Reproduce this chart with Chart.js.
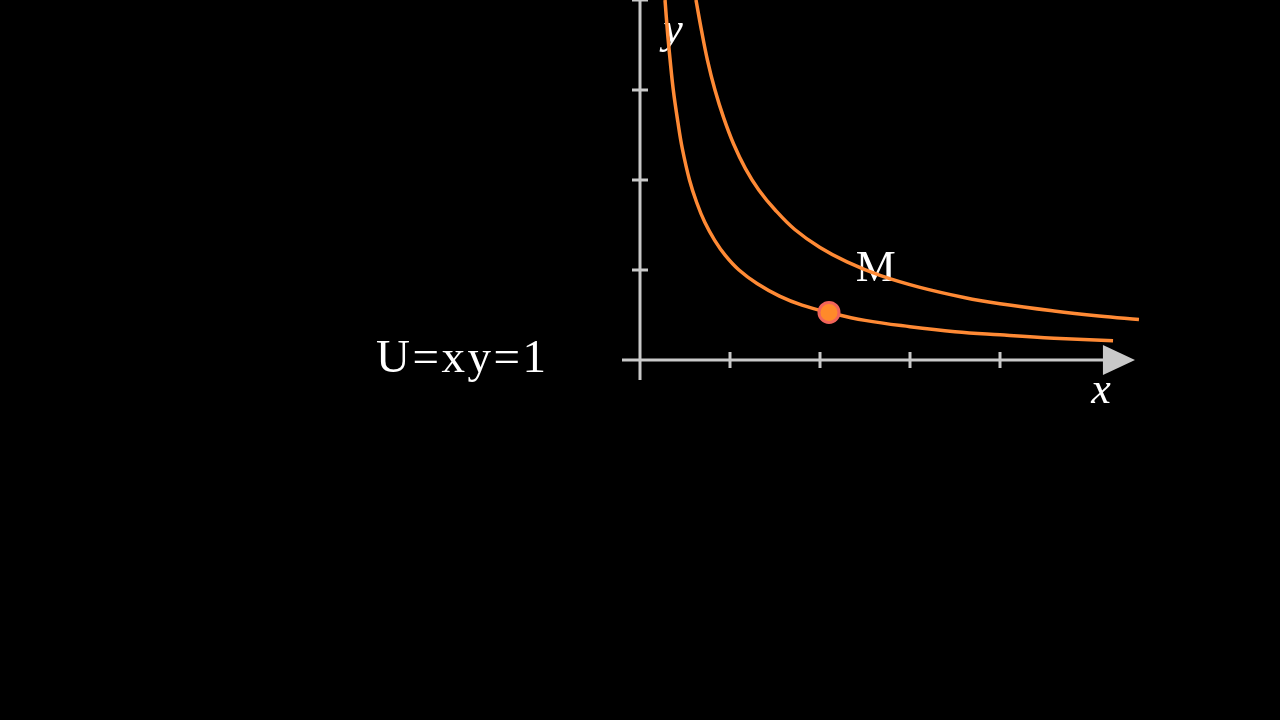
<!DOCTYPE html>
<html>
<head>
<meta charset="utf-8">
<script src="https://cdn.jsdelivr.net/npm/chart.js@4.4.1/dist/chart.umd.min.js"></script>
<style>
  html, body { margin: 0; padding: 0; background: #000; overflow: hidden; }
  #wrap { width: 1280px; height: 720px; position: relative; }
  canvas { display: block; }
</style>
</head>
<body>
<div id="wrap"><canvas id="c" width="1280" height="720"></canvas></div>
<script>
// ---- data ----
const innerX = [0.278, 0.305, 0.333, 0.37, 0.42, 0.47, 0.55, 0.63, 0.72, 0.83, 0.95, 1.1, 1.3, 1.55, 1.8, 2.1, 2.5, 3.0, 3.5, 4.0, 4.6, 5.256];
const innerY = [4.0, 3.65, 3.35, 3.0, 2.65, 2.35, 2.0, 1.75, 1.53, 1.33, 1.16, 1.0, 0.85, 0.71, 0.61, 0.528, 0.44, 0.37, 0.315, 0.28, 0.243, 0.213];
const outerX = [0.622, 0.68, 0.75, 0.833, 0.93, 1.04, 1.17, 1.32, 1.5, 1.72, 2.0, 2.3, 2.667, 3.1, 3.6, 4.0, 4.6, 5.1, 5.544];
const outerY = [4.0, 3.68, 3.33, 3.0, 2.69, 2.4, 2.13, 1.89, 1.67, 1.45, 1.25, 1.09, 0.94, 0.81, 0.695, 0.625, 0.545, 0.49, 0.45];
const markX = [2.1];
const markY = [0.528];
const xTicks = [1, 2, 3, 4];
const yTicks = [1, 2, 3, 4];
const labelM = { text: 'M', x: 2.62, y: 1.05 };
const equation = 'U=xy=1';

const toPts = (xs, ys) => xs.map((x, i) => ({ x, y: ys[i] }));

const AXIS = '#c9c9c9';
const ORANGE = '#ff8a35';

const axesPlugin = {
  id: 'axes',
  beforeDatasetsDraw(chart) {
    const { ctx, scales: { x, y } } = chart;
    const px = v => x.getPixelForValue(v);
    const py = v => y.getPixelForValue(v);
    ctx.save();
    ctx.strokeStyle = AXIS;
    ctx.fillStyle = AXIS;
    ctx.lineWidth = 3;
    ctx.lineCap = 'butt';
    // x axis
    ctx.beginPath();
    ctx.moveTo(px(-0.2), py(0));
    ctx.lineTo(px(5.2), py(0));
    ctx.stroke();
    // arrow head
    ctx.beginPath();
    ctx.moveTo(px(5.5), py(0));
    ctx.lineTo(px(5.144), py(0) - 15);
    ctx.lineTo(px(5.144), py(0) + 15);
    ctx.closePath();
    ctx.fill();
    // y axis
    ctx.beginPath();
    ctx.moveTo(px(0), py(-0.222));
    ctx.lineTo(px(0), py(4.2));
    ctx.stroke();
    // ticks
    xTicks.forEach(t => {
      ctx.beginPath();
      ctx.moveTo(px(t), py(0) - 8);
      ctx.lineTo(px(t), py(0) + 8);
      ctx.stroke();
    });
    yTicks.forEach(t => {
      ctx.beginPath();
      ctx.moveTo(px(0) - 8, py(t));
      ctx.lineTo(px(0) + 8, py(t));
      ctx.stroke();
    });
    // labels
    ctx.fillStyle = '#ffffff';
    ctx.textAlign = 'center';
    ctx.textBaseline = 'alphabetic';
    ctx.font = 'italic 44px "Liberation Serif", "DejaVu Serif", serif';
    ctx.fillText('y', px(0) + 33, 43);
    ctx.fillText('x', px(0) + 461, 403);
    ctx.font = '45px "Liberation Serif", "DejaVu Serif", serif';
    ctx.fillText(labelM.text, px(labelM.x), py(labelM.y) + 15);
    ctx.textAlign = 'left';
    ctx.font = '47px "Liberation Serif", "DejaVu Serif", serif';
    try { ctx.letterSpacing = '2.5px'; } catch (e) {}
    ctx.fillText(equation, 376, 372);
    ctx.restore();
  }
};

new Chart(document.getElementById('c'), {
  type: 'scatter',
  data: {
    datasets: [
      {
        label: 'M',
        data: toPts(markX, markY),
        showLine: false,
        pointRadius: 10,
        pointHoverRadius: 10,
        backgroundColor: '#ff8a2a',
        borderColor: '#f2645a',
        borderWidth: 3
      },
      {
        label: 'inner',
        data: toPts(innerX, innerY),
        showLine: true,
        borderColor: ORANGE,
        borderWidth: 3.5,
        pointRadius: 0,
        tension: 0.4,
        fill: false
      },
      {
        label: 'outer',
        data: toPts(outerX, outerY),
        showLine: true,
        borderColor: ORANGE,
        borderWidth: 3.5,
        pointRadius: 0,
        tension: 0.4,
        fill: false
      }
    ]
  },
  options: {
    responsive: false,
    animation: false,
    devicePixelRatio: 1,
    layout: { padding: 0, autoPadding: false },
    plugins: { legend: { display: false }, tooltip: { enabled: false }, title: { display: false } },
    events: [],
    scales: {
      x: { type: 'linear', min: -64 / 9, max: 64 / 9, display: false },
      y: { type: 'linear', min: -4, max: 4, display: false }
    }
  },
  plugins: [axesPlugin]
});
</script>
</body>
</html>
